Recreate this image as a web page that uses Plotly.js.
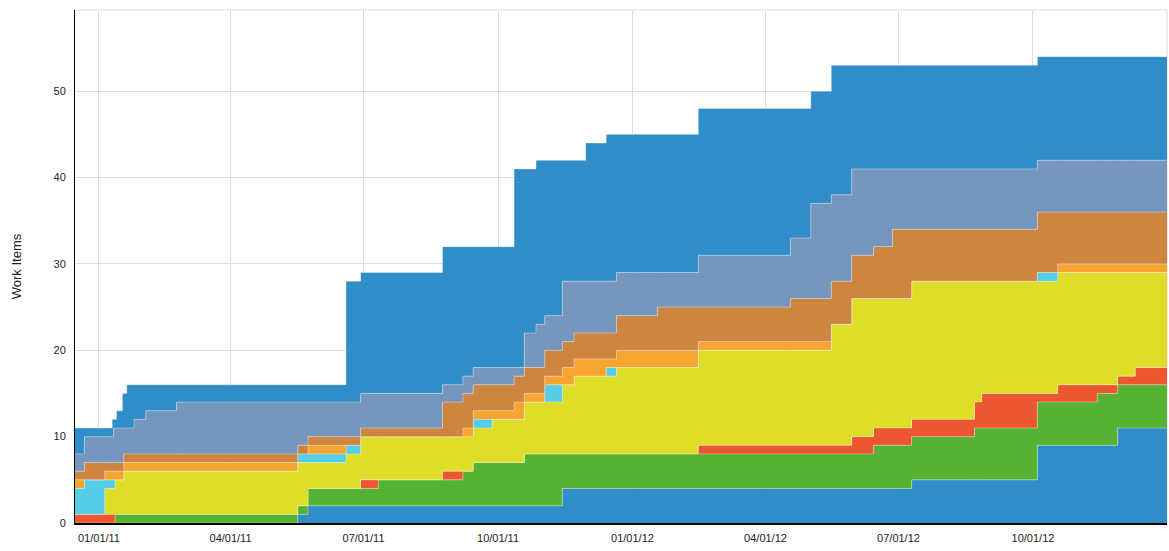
<!DOCTYPE html>
<html>
<head>
<meta charset="utf-8">
<script src="https://cdn.plot.ly/plotly-3.0.1.min.js"></script>
<style>
  html, body { margin: 0; padding: 0; background: #fff; }
  #chart { width: 1169px; height: 551px; }
</style>
</head>
<body>
<div id="chart"></div>
<script>
// Cumulative flow of work items: dates where any state count changes
const dates = [
  '2010-12-15','2010-12-22','2011-01-05','2011-01-10','2011-01-11','2011-01-12',
  '2011-01-13','2011-01-17','2011-01-18','2011-01-20','2011-01-25','2011-02-02',
  '2011-02-23','2011-05-17','2011-05-24','2011-06-19','2011-06-29','2011-07-11',
  '2011-08-24','2011-09-07','2011-09-14','2011-09-27','2011-10-12','2011-10-19',
  '2011-10-27','2011-11-02','2011-11-14','2011-11-22','2011-11-30','2011-12-14',
  '2011-12-21','2012-01-18','2012-02-15','2012-04-18','2012-05-02','2012-05-16',
  '2012-05-30','2012-06-14','2012-06-27','2012-07-10','2012-08-22','2012-08-27',
  '2012-10-04','2012-10-18','2012-11-14','2012-11-28','2012-12-10','2013-01-01'
];

// Item counts per state (stacked bottom to top)
const closed     = [0,0,0,0,0,0,0,0,0,0,0,0,0,1,2,2,2,2,2,2,2,2,2,2,2,2,4,4,4,4,4,4,4,4,4,4,4,4,4,5,5,5,9,9,9,11,11,11];
const resolved   = [0,0,0,0,0,1,1,1,1,1,1,1,1,1,2,2,2,3,3,4,5,5,5,6,6,6,4,4,4,4,4,4,4,4,4,4,4,5,5,5,6,6,5,5,6,5,5,5];
const removed    = [1,1,1,1,1,0,0,0,0,0,0,0,0,0,0,0,1,0,1,0,0,0,0,0,0,0,0,0,0,0,0,0,1,1,1,1,2,2,2,2,3,4,1,2,1,1,2,2];
const active     = [0,0,3,3,3,4,4,4,5,5,5,5,5,5,3,4,5,5,4,4,4,5,5,6,6,6,8,9,9,9,10,10,11,11,11,14,16,15,15,16,14,13,13,13,13,12,11,11];
const inReview   = [3,4,1,1,1,0,0,0,0,0,0,0,0,1,1,1,0,0,0,0,1,0,0,0,0,2,0,0,0,1,0,0,0,0,0,0,0,0,0,0,0,0,1,0,0,0,0,0];
const committed  = [1,0,1,1,1,1,1,1,1,1,1,1,1,0,1,0,0,0,0,1,1,1,2,1,1,1,2,2,2,1,2,2,1,1,1,0,0,0,0,0,0,0,0,1,1,1,1,1];
const approved   = [1,2,1,1,1,1,1,1,1,1,1,1,1,1,1,1,1,1,4,4,3,3,3,3,3,3,3,3,3,3,4,5,4,5,5,5,5,6,8,6,6,6,7,6,6,6,6,6];
const newItems   = [2,3,3,3,4,4,4,4,3,3,4,5,6,5,4,4,4,4,2,2,2,2,1,4,5,4,7,6,6,6,5,4,6,7,11,10,10,9,7,7,7,7,6,6,6,6,6,6];
const proposed   = [3,1,1,2,1,1,2,4,4,5,4,3,2,2,2,14,14,14,16,15,14,14,23,19,19,18,14,14,16,17,16,16,17,15,13,15,12,12,12,12,12,12,12,12,12,12,12,12];

const stateNames  = ['Closed','Resolved','Removed','Active','In Review','Committed','Approved','New','Proposed'];
const stateCounts = [closed, resolved, removed, active, inReview, committed, approved, newItems, proposed];
const stateColors = ['#308dc8','#56b233','#ec5731','#dede28','#56cde6','#f5a530','#cd853f','#7696bd','#308dc8'];

const traces = stateCounts.map((vals, i) => ({
  type: 'scatter',
  mode: 'lines',
  name: stateNames[i],
  x: dates,
  y: vals,
  stackgroup: 'flow',
  line: { shape: 'hv', width: 1, color: 'rgba(255,255,255,0.35)' },
  fillcolor: stateColors[i],
  hoverinfo: 'x+y+name'
}));

const layout = {
  width: 1169,
  height: 551,
  margin: { l: 75, r: 2, t: 10, b: 28 },
  paper_bgcolor: '#ffffff',
  plot_bgcolor: '#ffffff',
  showlegend: false,
  font: { family: '"Liberation Sans", Arial, sans-serif', size: 11, color: '#222' },
  xaxis: {
    type: 'date',
    range: ['2010-12-15 14:00', '2012-12-31 17:00'],
    tick0: '2011-01-01',
    dtick: 'M3',
    tickformat: '%m/%d/%y',
    showgrid: true,
    gridcolor: '#dddddd',
    gridwidth: 1,
    showline: true,
    linecolor: '#000',
    linewidth: 2,
    ticks: '',
    ticklabelstandoff: 4,
    zeroline: false,
    layer: 'below traces'
  },
  yaxis: {
    range: [0, 59.4],
    tick0: 0,
    dtick: 10,
    showgrid: true,
    gridcolor: '#dddddd',
    gridwidth: 1,
    showline: true,
    linecolor: '#000',
    linewidth: 1,
    ticks: '',
    ticklabelstandoff: 6,
    zeroline: false,
    title: { text: 'Work Items', font: { size: 13, color: '#222' }, standoff: 28 }
  },
  shapes: [
    { type: 'line', xref: 'paper', yref: 'paper', x0: 0, x1: 1, y0: 1, y1: 1,
      line: { color: '#dddddd', width: 1 }, layer: 'below' },
    { type: 'line', xref: 'paper', yref: 'paper', x0: 1, x1: 1, y0: 0, y1: 1,
      line: { color: '#dddddd', width: 1 }, layer: 'below' }
  ]
};

Plotly.newPlot('chart', traces, layout, { displayModeBar: false, staticPlot: true });
</script>
</body>
</html>
